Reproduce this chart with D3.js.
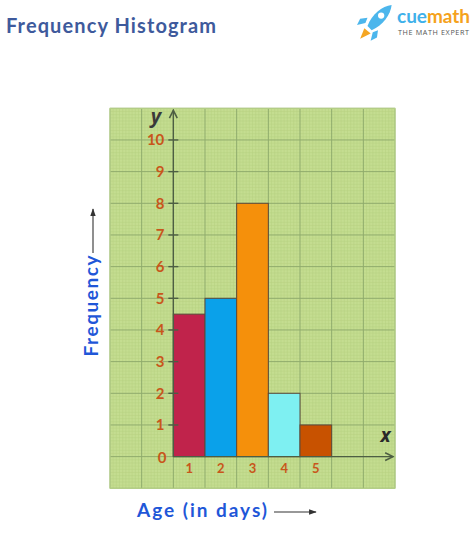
<!DOCTYPE html>
<html><head><meta charset="utf-8">
<script src="https://cdn.jsdelivr.net/npm/d3@7"></script>
<style>body{margin:0;background:#fff}svg{display:block}</style>
</head><body>
<script>
const categories = [1, 2, 3, 4, 5];
const values = [4.5, 5, 8, 2, 1];
const barColors = ["#c0234b", "#0aa1ea", "#f5900b", "#7ef0f2", "#c85200"];
const yTicks = [0, 1, 2, 3, 4, 5, 6, 7, 8, 9, 10];
const xTicks = [1, 2, 3, 4, 5];

const W = 474, H = 535;
const svg = d3.select("body").append("svg").attr("width", W).attr("height", H);

const x = d3.scaleLinear().domain([-2, 7]).range([110, 395]);
const y = d3.scaleLinear().domain([-1, 11]).range([488.3, 108.3]);

// background grid
svg.append("rect").attr("x", x(-2)).attr("y", y(11)).attr("width", x(7) - x(-2)).attr("height", y(-1) - y(11)).attr("fill", "#c4dd90");
const minor = svg.append("g").attr("stroke", "#b6d181").attr("stroke-width", 0.5);
d3.range(-20, 71).forEach(i => {
  if (i % 10 === 0) return;
  minor.append("line").attr("x1", x(i / 10)).attr("x2", x(i / 10)).attr("y1", y(11)).attr("y2", y(-1));
});
d3.range(-10, 111).forEach(i => {
  if (i % 10 === 0) return;
  minor.append("line").attr("y1", y(i / 10)).attr("y2", y(i / 10)).attr("x1", x(-2)).attr("x2", x(7));
});
const major = svg.append("g").attr("stroke", "#8fab6c").attr("stroke-width", 1);
d3.range(-2, 8).forEach(v => major.append("line").attr("x1", x(v)).attr("x2", x(v)).attr("y1", y(11)).attr("y2", y(-1)));
d3.range(-1, 12).forEach(v => major.append("line").attr("y1", y(v)).attr("y2", y(v)).attr("x1", x(-2)).attr("x2", x(7)));
svg.append("rect").attr("x", x(-2)).attr("y", y(11)).attr("width", x(7) - x(-2)).attr("height", y(-1) - y(11)).attr("fill", "none").attr("stroke", "#b9d48a").attr("stroke-width", 1);

// bars
svg.append("g").selectAll("rect").data(categories).join("rect")
  .attr("x", d => x(d - 1))
  .attr("y", (d, i) => y(values[i]))
  .attr("width", d => x(d) - x(d - 1))
  .attr("height", (d, i) => y(0) - y(values[i]))
  .attr("fill", (d, i) => barColors[i])
  .attr("stroke", "#5a4a3a").attr("stroke-width", 1);

// axes
const axisColor = "#4d5e43";
svg.append("defs").html(`<marker id="arr" viewBox="0 0 10 10" refX="9" refY="5" markerWidth="7" markerHeight="7" orient="auto-start-reverse"><path d="M1,1 L9,5 L1,9" fill="none" stroke="${axisColor}" stroke-width="1.6"/></marker>
<marker id="arrb" viewBox="0 0 10 10" refX="9" refY="5" markerWidth="7" markerHeight="7" orient="auto"><path d="M0,1.5 L10,5 L0,8.5 Z" fill="#333"/></marker>`);
svg.append("line").attr("x1", x(0)).attr("x2", x(0)).attr("y1", y(0)).attr("y2", y(11) + 2)
  .attr("stroke", axisColor).attr("stroke-width", 1.4).attr("marker-end", "url(#arr)");
svg.append("line").attr("x1", x(0)).attr("x2", x(7) - 2).attr("y1", y(0)).attr("y2", y(0))
  .attr("stroke", axisColor).attr("stroke-width", 1.4).attr("marker-end", "url(#arr)");

const tickColor = "#c8561b";
const yt = svg.append("g");
yTicks.forEach(v => {
  if (v > 0) yt.append("line").attr("x1", x(0) - 5).attr("x2", x(0) + 5).attr("y1", y(v)).attr("y2", y(v)).attr("stroke", axisColor).attr("stroke-width", 1.4);
  yt.append("text").attr("x", x(0) - 7 - (v === 0 ? 0 : 2)).attr("y", y(v) + (v === 0 ? 1 : 0)).attr("dy", "0.36em")
    .attr("text-anchor", "end").attr("font-family", "Lato, 'Open Sans', sans-serif").attr("font-weight", "bold")
    .attr("font-size", 15).attr("fill", tickColor).text(v);
});
svg.append("g").selectAll("text").data(xTicks).join("text")
  .attr("x", d => x(d - 0.5)).attr("y", y(0) + 16).attr("text-anchor", "middle")
  .attr("font-family", "Lato, 'Open Sans', sans-serif").attr("font-weight", "bold").attr("font-size", 13)
  .attr("fill", tickColor).text(d => d);

svg.append("text").attr("x", x(-0.55)).attr("y", y(10.55)).attr("text-anchor", "middle")
  .attr("font-family", "'Open Sans', sans-serif").attr("font-style", "italic").attr("font-weight", "bold")
  .attr("font-size", 20).attr("fill", "#3a3a3a").text("y");
svg.append("text").attr("x", x(6.7)).attr("y", y(0.45)).attr("text-anchor", "middle")
  .attr("font-family", "'Open Sans', sans-serif").attr("font-style", "italic").attr("font-weight", "bold")
  .attr("font-size", 19).attr("fill", "#2a2a2a").text("x");

// title
svg.append("text").attr("x", 6).attr("y", 33).attr("font-family", "Lato, sans-serif").attr("font-weight", "bold")
  .attr("font-size", 20).attr("letter-spacing", 1.1).attr("fill", "#3e5a9c").text("Frequency Histogram");

// axis titles
const blue = "#1f57d8";
svg.append("text").attr("transform", "translate(98,306) rotate(-90)").attr("text-anchor", "middle")
  .attr("font-family", "Lato, sans-serif").attr("font-weight", "bold").attr("font-size", 19)
  .attr("textLength", 101).attr("fill", blue).text("Frequency");
svg.append("line").attr("x1", 93).attr("x2", 93).attr("y1", 253).attr("y2", 209)
  .attr("stroke", "#333").attr("stroke-width", 1.1).attr("marker-end", "url(#arrb)");
svg.append("text").attr("x", 137).attr("y", 517).attr("font-family", "Lato, sans-serif").attr("font-weight", "bold")
  .attr("font-size", 19).attr("textLength", 130).attr("fill", blue).text("Age (in days)");
svg.append("line").attr("x1", 274).attr("x2", 316).attr("y1", 512).attr("y2", 512)
  .attr("stroke", "#333").attr("stroke-width", 1.1).attr("marker-end", "url(#arrb)");

// logo
const logo = svg.append("g").attr("transform", "translate(357,4) scale(1.05)");
logo.append("path").attr("d", "M7,23 L3,33 L13,28 Z").attr("fill", "#f5a623");
logo.append("path").attr("d", "M10,21 C14,10 24,2 33,1 C32,10 25,20 14,25 Z").attr("fill", "#4cb6ec");
logo.append("path").attr("d", "M10,13 L3,14 L0,20 L8,18 Z").attr("fill", "#4cb6ec");
logo.append("path").attr("d", "M20,25 L19,32 L13,35 L15,27 Z").attr("fill", "#4cb6ec");
logo.append("circle").attr("cx", 23).attr("cy", 11).attr("r", 3).attr("fill", "#fff");
const lt = svg.append("text").attr("x", 397).attr("y", 23).attr("font-family", "Lato, sans-serif").attr("font-weight", "bold")
  .attr("font-size", 19).attr("textLength", 73);
lt.append("tspan").attr("fill", "#3fb1ea").text("cue");
lt.append("tspan").attr("fill", "#f5a21c").text("math");
svg.append("text").attr("x", 398).attr("y", 35).attr("font-family", "'Open Sans', sans-serif").attr("font-size", 7.2)
  .attr("textLength", 71).attr("fill", "#555").text("THE MATH EXPERT");
</script>
</body></html>
